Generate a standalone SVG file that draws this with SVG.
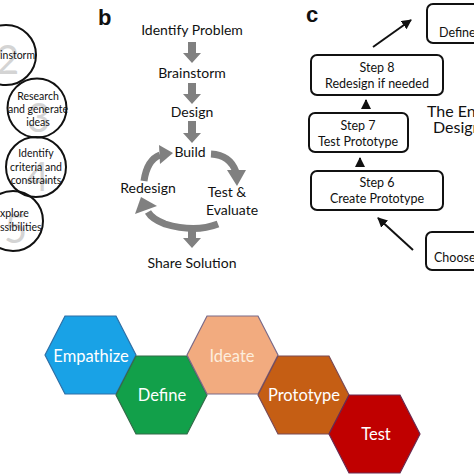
<svg xmlns="http://www.w3.org/2000/svg" width="474" height="474" viewBox="0 0 474 474">
<defs>
<style>
.t{font-family:Lato,"Open Sans","Liberation Sans",sans-serif;fill:#111}
.ca{font-size:10.5px}
.dg{font-family:Lato,"Liberation Sans",sans-serif;font-size:40px;fill:#d4d4d4}
.bl{font-size:14px}
.st{font-size:12.5px}
.box{fill:#fff;stroke:#111;stroke-width:2}
.circ{fill:none;stroke:#111;stroke-width:2}
.garrow{fill:#808080}
.garc{fill:none;stroke:#808080;stroke-width:7}
.bk{stroke:#111;stroke-width:2;fill:none}
.hx{stroke-width:1.2}
.ht{font-family:Lato,"Open Sans","Liberation Sans",sans-serif;font-size:16.5px;fill:#fff;text-anchor:middle}
.lbl{font-family:"Liberation Sans",Arial,sans-serif;font-weight:bold;font-size:22px;fill:#111}
</style>
<marker id="ah" viewBox="0 0 10 10" refX="9" refY="5" markerWidth="5" markerHeight="5" orient="auto">
<path d="M0,0 L10,5 L0,10 z" fill="#111"/>
</marker>
</defs>

<!-- Panel a -->
<g id="panel-a">
<g id="a-brainstorm">
<text class="dg" x="-4" y="74">2</text>
<circle class="circ" cx="6" cy="55" r="30"/>
<text class="t ca" x="0" y="59">instorm</text>
</g>
<g id="a-research">
<text class="dg" x="27" y="132">3</text>
<circle class="circ" cx="37" cy="108" r="29.5"/>
<text class="t ca" x="38" y="100" text-anchor="middle">Research</text>
<text class="t ca" x="38" y="113" text-anchor="middle">and generate</text>
<text class="t ca" x="38" y="126" text-anchor="middle">ideas</text>
</g>
<g id="a-identify">
<text class="dg" x="26" y="191">4</text>
<circle class="circ" cx="36" cy="167" r="30"/>
<text class="t ca" x="36" y="157" text-anchor="middle">Identify</text>
<text class="t ca" x="36" y="171" text-anchor="middle">criteria and</text>
<text class="t ca" x="36" y="184" text-anchor="middle">constraints</text>
</g>
<g id="a-explore">
<text class="dg" x="4" y="243">5</text>
<circle class="circ" cx="13" cy="221" r="30"/>
<text class="t ca" x="0" y="217">xplore</text>
<text class="t ca" x="0" y="231">ssibilities</text>
</g>
</g>

<!-- Panel b -->
<text class="lbl" x="98" y="25">b</text>
<g id="b-connectors">
<polygon class="garrow" points="188,42 196,42 196,53 201,53 192,63 183,53 188,53"/>
<polygon class="garrow" points="188,83 196,83 196,94 201,94 192,104 183,94 188,94"/>
<polygon class="garrow" points="188,121 196,121 196,133 201,133 192,143 183,133 188,133"/>
<path class="garc" d="M211,154 Q230,155 236,172"/>
<polygon class="garrow" points="227,170 246,170 237,186"/>
<path class="garc" d="M218,224 Q195,233 165,224 Q152,219 148,212"/>
<polygon class="garrow" points="135,214 157,206 141,197"/>
<path class="garc" d="M144,181 Q147,160 160,155"/>
<polygon class="garrow" points="159,145 160,164 173,153"/>
<polygon class="garrow" points="188,229 196,229 196,238 201,238 192,248 183,238 188,238"/>
</g>
<g id="b-identify"><text class="t bl" x="192" y="35" text-anchor="middle">Identify Problem</text></g>
<g id="b-brainstorm"><text class="t bl" x="192" y="78" text-anchor="middle">Brainstorm</text></g>
<g id="b-design"><text class="t bl" x="192" y="117" text-anchor="middle">Design</text></g>
<g id="b-build"><text class="t bl" x="190" y="157" text-anchor="middle">Build</text></g>
<g id="b-test"><text class="t bl" x="227" y="197" text-anchor="middle">Test &amp;</text><text class="t bl" x="232" y="215" text-anchor="middle">Evaluate</text></g>
<g id="b-redesign"><text class="t bl" x="148" y="193" text-anchor="middle">Redesign</text></g>
<g id="b-share"><text class="t bl" x="192" y="268" text-anchor="middle">Share Solution</text></g>

<!-- Panel c -->
<text class="lbl" x="306" y="22">c</text>
<g id="c-connectors">
<line class="bk" x1="373" y1="47" x2="411" y2="20" marker-end="url(#ah)"/>
<line class="bk" x1="366" y1="108" x2="366" y2="100" marker-end="url(#ah)"/>
<line class="bk" x1="360" y1="166" x2="360" y2="158" marker-end="url(#ah)"/>
<line class="bk" x1="413" y1="250" x2="378" y2="218" marker-end="url(#ah)"/>
</g>
<g id="c-define">
<rect class="box" x="427" y="4" width="60" height="39" rx="6"/>
<text class="t st" x="439" y="37">Define</text>
</g>
<g id="c-step8">
<rect class="box" x="311" y="55" width="132" height="40" rx="6"/>
<text class="t st" x="377" y="72" text-anchor="middle">Step 8</text>
<text class="t st" x="377" y="88" text-anchor="middle">Redesign if needed</text>
</g>
<g id="c-title">
<text class="t" x="427" y="117" font-size="16">The En</text>
<text class="t" x="433" y="133" font-size="16">Design</text>
</g>
<g id="c-step7">
<rect class="box" x="309" y="113" width="99" height="39" rx="6"/>
<text class="t st" x="358" y="130" text-anchor="middle">Step 7</text>
<text class="t st" x="358" y="146" text-anchor="middle">Test Prototype</text>
</g>
<g id="c-step6">
<rect class="box" x="311" y="171" width="132" height="39" rx="6"/>
<text class="t st" x="377" y="187" text-anchor="middle">Step 6</text>
<text class="t st" x="377" y="203" text-anchor="middle">Create Prototype</text>
</g>
<g id="c-choose">
<rect class="box" x="426" y="232" width="60" height="38" rx="6"/>
<text class="t st" x="434" y="262">Choose</text>
</g>

<!-- Panel d -->
<g id="d-empathize">
<polygon class="hx" points="45,355 65,316 116,316 136,355 116,394 65,394" fill="#19a2e6" stroke="#2e6fa6"/>
<text class="ht" x="91" y="362">Empathize</text>
</g>
<g id="d-define">
<polygon class="hx" points="116,395 136,356 187,356 207,395 187,434 136,434" fill="#12a04a" stroke="#336b48"/>
<text class="ht" x="162" y="401">Define</text>
</g>
<g id="d-ideate">
<polygon class="hx" points="187,355 207,316 258,316 278,355 258,394 207,394" fill="#f2ab7f" stroke="#7a6a88"/>
<text class="ht" x="232" y="362" style="fill:#fdeedd">Ideate</text>
</g>
<g id="d-prototype">
<polygon class="hx" points="258,395 278,356 329,356 349,395 329,434 278,434" fill="#c55e14" stroke="#7a4a55"/>
<text class="ht" x="304" y="401">Prototype</text>
</g>
<g id="d-test">
<polygon class="hx" points="329,434 349,395 400,395 420,434 400,473 349,473" fill="#c00000" stroke="#6a2a50"/>
<text class="ht" x="376" y="440">Test</text>
</g>
</svg>
